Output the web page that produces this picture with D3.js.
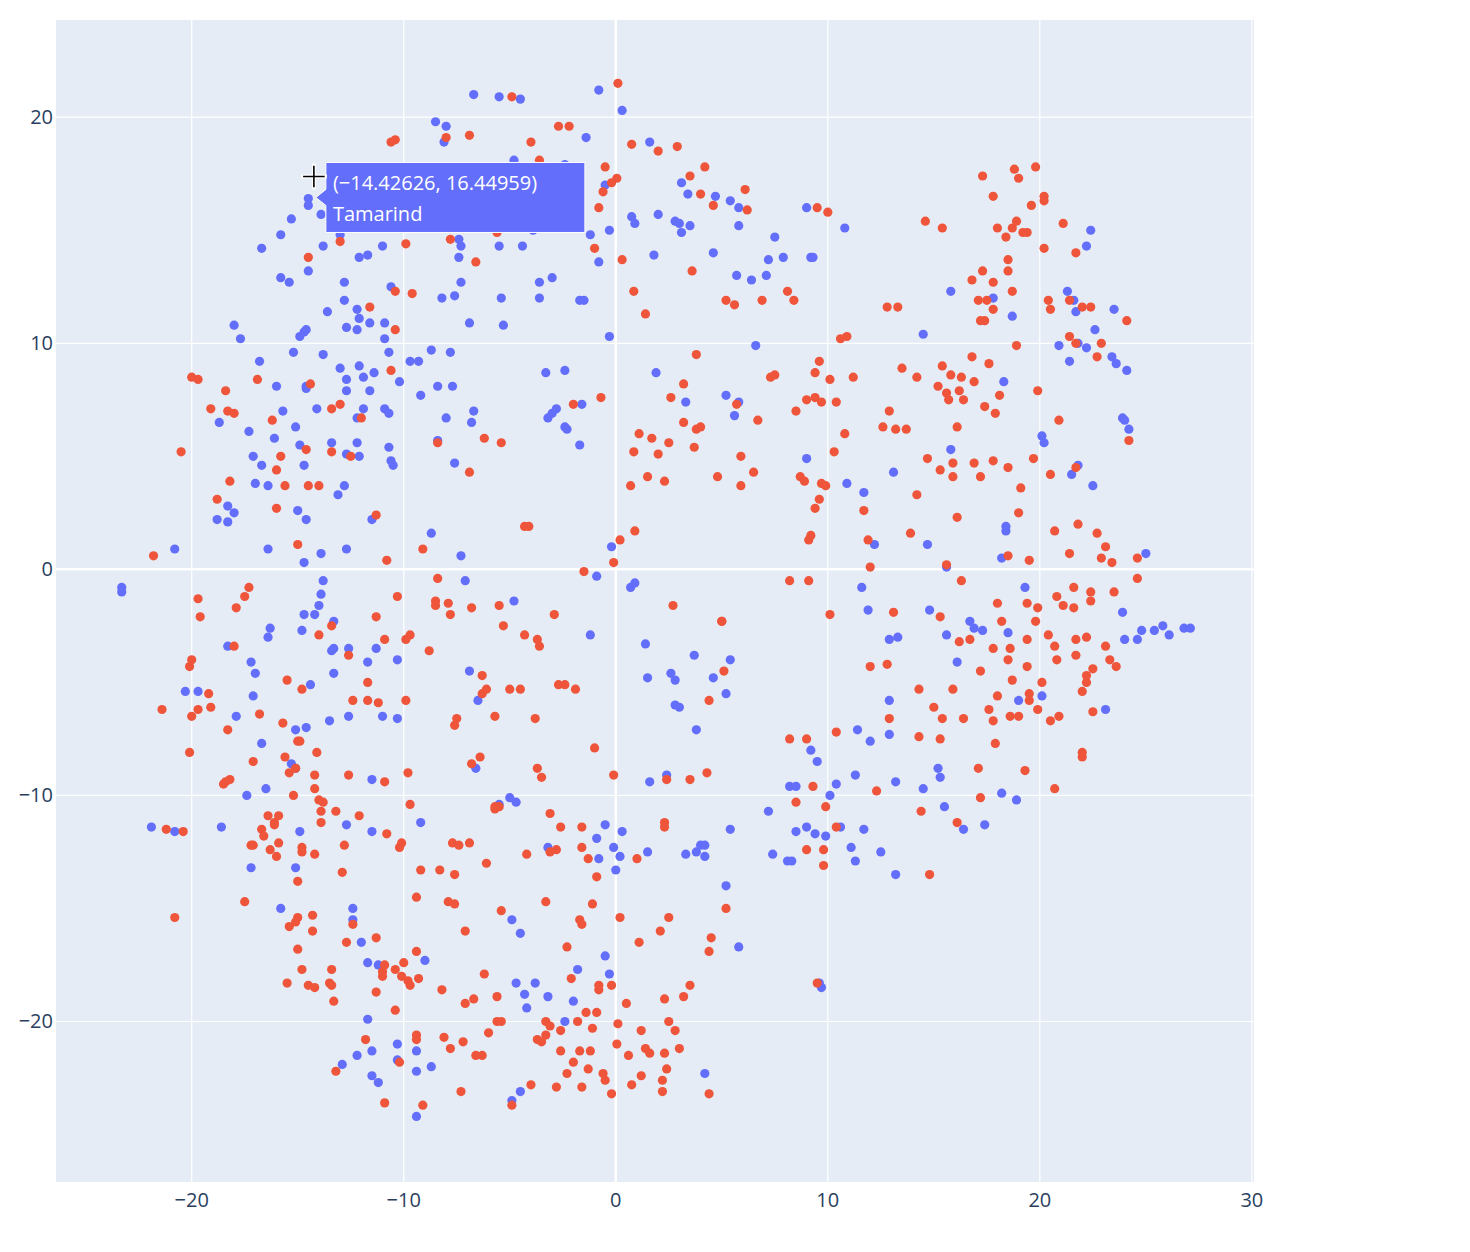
<!DOCTYPE html>
<html>
<head>
<meta charset="utf-8">
<script src="https://cdn.jsdelivr.net/npm/d3@7"></script>
<style>
  body { margin: 0; background: #fff; }
  text { font-family: "Open Sans", Arial, sans-serif; }
</style>
</head>
<body>
<svg id="chart" width="1470" height="1252"></svg>
<script>
// Data //
const xTicks = [-20, -10, 0, 10, 20, 30]
const yTicks = [-20, -10, 0, 10, 20]

const bluePoints = [
  [-6.7,21.0],[-5.5,20.9],[-4.5,20.8],[-0.8,21.2],[0.3,20.3],[-8.5,19.8],[-8,19.6],[-8.1,18.9],[-1.4,19.1],[1.6,18.9],
  [-4.8,18.1],[-2.4,17.9],[-0.5,17.0],[3.1,17.1],[3.4,16.6],[4.7,16.5],[5.4,16.3],[5.8,16.0],[9.0,16.0],[10.8,15.1],
  [0.75,15.6],[0.9,15.3],[2.0,15.7],[2.8,15.4],[3.0,15.3],[3.5,15.2],[3.1,14.9],[5.8,15.2],[-0.3,15.0],[-1.2,14.8],
  [-4.4,14.3],[-3.9,15.0],[4.6,14.0],[7.5,14.7],[7.2,13.7],[5.7,13.0],[6.4,12.8],[7.1,13.0],[7.9,13.8],[9.2,13.8],
  [9.3,13.8],[1.8,13.9],[-0.8,13.6],[-7.4,14.6],[-7.3,14.3],[-7.4,13.8],[-5.5,14.3],[-3.6,12.7],[-3,12.9],[-3.6,12.0],
  [-1.7,11.9],[-1.5,11.9],[-5.4,12.0],[-5.3,10.8],[-7.3,12.7],[-7.6,12.1],[-8.2,12.0],[-6.9,10.9],[-0.3,10.3],[6.6,9.9],
  [-7.8,9.6],[-3.3,8.7],[-2.4,8.8],[3.3,7.4],[1.9,8.7],[5.2,7.7],[5.8,7.4],[5.6,6.8],[-2.8,7.1],[-3.0,6.9],
  [-3.2,6.7],[-2.4,6.3],[-2.3,6.2],[-1.6,7.3],[-1.7,5.5],[-6.7,7.0],[-6.8,6.5],[-8.0,6.7],[-7.6,4.7],[-8.4,5.7],
  [-9.2,7.7],[-8.4,8.1],[-7.7,8.1],[-9.7,9.2],[-9.3,9.2],[-8.7,9.7],
  [-15.3,15.5],[-15.8,14.8],[-16.7,14.2],[-14.5,16.4],[-14.5,16.1],[-13.9,15.7],[-13.8,14.3],[-14.5,13.2],[-15.8,12.9],[-15.4,12.7],
  [-12.8,12.7],[-12.8,11.9],[-13.0,14.8],[-12.1,13.8],[-11.7,13.9],[-11.0,14.3],[-10.6,12.5],[-12.2,11.5],[-12.1,11.1],[-11.6,10.9],
  [-10.9,10.9],[-10.9,10.2],[-12.7,10.7],[-12.2,10.6],[-13.6,11.4],[-14.7,10.5],[-14.6,10.6],[-14.9,10.3],[-15.2,9.6],[-13.8,9.5],
  [-18.0,10.8],[-17.7,10.2],[-16.8,9.2],[-16.0,8.1],[-14.6,8.1],[-14.6,8.0],[-13.0,8.9],[-12.1,9.0],[-12.7,8.4],[-12.7,7.9],
  [-11.9,8.5],[-11.4,8.7],[-10.7,9.6],[-10.2,8.3],[-11.6,7.9],[-10.9,7.1],[-10.7,6.9],[-11.9,7.1],[-14.1,7.1],[-12.2,6.7],
  [-15.7,7.0],[-15.1,6.3],[-17.3,6.1],[-18.7,6.5],[-16.1,5.8],[-14.9,5.5],[-13.4,5.6],[-12.2,5.6],[-12.1,5.0],[-12.7,5.1],
  [-10.7,5.4],[-10.6,4.8],[-10.5,4.6],[-17.1,5.0],[-16.7,4.6],[-17.0,3.8],[-16.4,3.7],[-14.7,4.6],[-12.8,3.7],[-13.1,3.3],
  [-18.3,2.8],[-18.0,2.5],[-18.8,2.2],[-18.3,2.1],[-15.0,2.6],[-14.6,2.2],[-11.5,2.2],[-8.7,1.6],[-12.7,0.9],[-16.4,0.9],
  [-20.8,0.9],[-13.9,0.7],[-14.7,0.3],[-7.3,0.6],[-0.2,1.0],[-23.3,-0.8],[-23.3,-1.0],
  [22.2,14.3],[22.4,15.0],[21.3,12.3],[21.6,11.9],[21.7,11.4],[22.6,10.6],[21.8,10.0],[22.2,9.8],[20.9,9.9],[21.4,9.2],
  [23.5,11.5],[23.4,9.4],[23.6,9.1],[24.1,8.8],[23.9,6.7],[24.0,6.6],[24.2,6.2],[20.1,5.9],[20.2,5.6],[21.8,4.6],
  [21.5,4.2],[22.5,3.7],[18.7,11.2],[17.8,12.0],[18.3,8.3],[15.8,12.3],[14.5,10.4],[15.8,5.3],[13.1,4.3],[14.7,1.1],
  [18.4,1.9],[18.4,1.7],[18.2,0.5],[15.6,0.1],[25.0,0.7],[24.8,-2.7],[25.4,-2.7],[25.8,-2.5],[26.1,-2.9],[26.8,-2.6],
  [27.1,-2.6],[24.0,-3.1],[24.6,-3.1],[23.9,-1.9],[10.9,3.8],[11.7,3.4],[12.2,1.1],[9.0,4.9],[11.6,-0.8],[11.9,-1.8],
  [12.9,-3.1],[13.3,-3.0],[12.9,-5.8],[12.9,-7.3],[12.0,-7.6],[11.4,-7.1],[11.3,-9.1],[10.4,-9.5],[10.1,-10.0],[9.5,-8.5],
  [9.2,-8.0],[8.2,-9.6],[8.5,-9.6],[7.2,-10.7],[7.4,-12.6],[8.1,-12.9],[8.3,-12.9],[8.5,-11.6],[9.0,-11.4],[9.4,-11.7],
  [9.9,-11.8],[10.6,-11.4],[11.1,-12.3],[11.3,-12.9],[11.7,-11.5],[12.5,-12.5],[13.2,-13.5],[13.2,-9.4],[14.5,-9.7],[15.2,-8.8],
  [15.3,-9.2],[15.5,-10.5],[16.4,-11.5],[17.4,-11.3],[18.2,-9.9],[18.9,-10.2],[14.8,-1.8],[15.6,-2.9],[16.1,-4.1],[16.7,-2.3],
  [16.9,-2.6],[17.3,-2.7],[18.5,-2.8],[20.1,-5.6],[23.1,-6.2],[19.0,-5.8],[19.3,-0.8],[9.7,-18.5],[9.6,-18.3],
  [-0.9,-0.3],[0.7,-0.8],[0.9,-0.6],[-1.2,-2.9],[1.4,-3.3],[1.5,-4.8],[2.6,-4.6],[2.8,-4.9],[2.8,-6.0],[3.0,-6.1],
  [3.7,-3.8],[4.6,-4.8],[5.4,-4.0],[5.2,-5.5],[3.8,-7.1],[1.6,-9.4],[2.4,-9.1],[-0.5,-11.3],[0.3,-11.6],[-0.9,-11.9],
  [-0.1,-12.3],[-0.8,-12.8],[0.2,-12.7],[0,-13.3],[1.5,-12.5],[3.3,-12.6],[3.8,-12.5],[4.2,-12.7],[4.0,-12.2],[4.2,-12.2],
  [5.4,-11.5],[5.2,-14.0],[5.8,-16.7],[-0.5,-17.1],[-0.3,-17.9],[-1.8,-17.7],[-2.0,-19.1],[-3.2,-18.9],[-2.4,-20.0],[-4.2,-19.4],
  [-4.3,-18.8],[-4.7,-18.3],[-3.8,-18.3],[-4.9,-15.5],[-4.5,-16.1],[-4.7,-10.3],[-5.0,-10.1],[-5.5,-10.4],[-3.2,-12.3],[-4.5,-23.1],
  [-4.9,-23.5],[4.2,-22.3],[-6.6,-8.8],[-6.9,-4.5],[-6.5,-5.8],[-7.1,-0.5],[-4.8,-1.4],[-9.4,-21.3],[-9.4,-22.2],[-8.7,-22.0],
  [-9.0,-17.3],[-9.4,-24.2],[-9.2,-11.2],
  [-13.8,-0.5],[-13.9,-1.1],[-14.0,-1.6],[-14.2,-2.0],[-14.7,-2.0],[-14.8,-2.7],[-13.3,-2.3],[-13.3,-3.5],[-13.4,-3.6],[-13.3,-4.6],
  [-12.6,-3.5],[-11.7,-4.1],[-11.3,-3.5],[-10.3,-4.0],[-11.0,-6.5],[-10.3,-6.6],[-12.6,-6.5],[-13.5,-6.7],[-14.6,-7.0],[-15.1,-7.1],
  [-14.4,-5.1],[-17.2,-4.1],[-17.0,-4.6],[-17.1,-5.6],[-17.9,-6.5],[-16.7,-7.7],[-16.3,-2.6],[-16.4,-3.0],[-18.3,-3.4],[-20.3,-5.4],
  [-19.7,-5.4],[-17.4,-10.0],[-16.5,-9.7],[-15.3,-8.6],[-15.1,-8.8],[-11.5,-9.3],[-11.5,-11.6],[-12.7,-11.3],[-14.9,-11.6],[-15.1,-13.2],
  [-17.2,-13.2],[-18.6,-11.4],[-21.9,-11.4],[-20.8,-11.6],[-15.8,-15.0],[-12.4,-15.0],[-12.4,-15.5],[-12.0,-16.5],[-11.7,-17.4],[-11.2,-17.5],
  [-11.7,-19.9],[-12.2,-21.5],[-11.5,-21.3],[-11.5,-22.4],[-11.2,-22.7],[-12.9,-21.9],[-10.3,-21.0],[-10.3,-21.7]
]

const redPoints = [
  [0.1,21.5],[-4.9,20.9],[-2.7,19.6],[-2.2,19.6],[-6.9,19.2],[-8.0,19.1],[-10.6,18.9],[-10.4,19.0],[-4.0,18.9],[0.75,18.8],
  [2.0,18.5],[2.9,18.7],[-7.6,17.8],[-3.6,18.1],[-3.2,17.8],[4.2,17.8],[3.5,17.4],[-0.5,17.8],[0.05,17.3],[-0.2,17.1],
  [-0.6,16.7],[6.1,16.8],[4.0,16.6],[4.6,16.1],[6.2,15.9],[-0.8,16.0],[9.5,16.0],[10.0,15.8],[-5.6,14.9],[-7.8,14.6],
  [-9.9,14.4],[-13.0,14.5],[-14.5,13.8],[-6.6,13.6],[-1.0,14.2],[0.3,13.7],[3.6,13.2],[0.85,12.3],[1.4,11.3],[5.2,11.9],
  [5.6,11.7],[6.9,11.9],[8.1,12.3],[8.4,11.9],[-10.4,12.3],[-9.6,12.2],[-11.6,11.6],[-10.4,10.6],[10.9,10.3],[10.6,10.2],
  [3.8,9.5],[3.2,8.2],[2.6,7.6],[7.3,8.5],[7.5,8.6],[9.6,9.2],[9.4,8.7],[10.1,8.4],[11.2,8.5],[6.7,6.6],
  [5.7,7.3],[-0.7,7.6],[-2.0,7.3],[-10.6,8.8],[-14.4,8.2],[8.5,7.0],[9.0,7.5],[9.4,7.6],[9.7,7.4],[10.4,7.4],
  [3.2,6.5],[3.8,6.2],[4.0,6.3],[10.8,6.0],[1.1,6.0],[1.7,5.8],[2.5,5.6],[3.7,5.4],[0.85,5.2],[2.0,5.1],
  [5.9,5.0],[6.5,4.3],[10.3,5.2],[4.8,4.1],[1.5,4.1],[2.3,3.9],[0.7,3.7],[5.9,3.7],[8.7,4.1],[8.9,3.9],
  [9.7,3.8],[9.9,3.7],[9.6,3.1],[9.4,2.7],[11.7,2.6],[0.9,1.7],[0.2,1.3],[9.2,1.5],[9.1,1.3],[11.9,1.3],
  [12.0,0.1],[-0.1,0.3],[-1.5,-0.1],[8.2,-0.5],[9.1,-0.5],[2.7,-1.6],[10.1,-2.0],[5.0,-2.3],[-4.3,1.9],[-4.1,1.9],
  [-6.9,4.3],[-5.4,5.6],[-6.2,5.8],[-8.4,5.6],[-9.1,0.9],[-8.4,-0.4],[-10.8,0.4],[-11.3,2.4],[-14.6,5.3],[-13.4,7.1],
  [-13.0,7.3],[-12.0,6.7],[-12.5,5.0],[-13.4,5.2],[-14.5,3.7],[-14.0,3.7],[-15.6,3.7],[-15.8,5.0],[-16.0,4.4],[-16.2,6.6],
  [-16.9,8.4],[-18.4,7.9],[-20.0,8.5],[-19.7,8.4],[-19.1,7.1],[-18.3,7.0],[-18.0,6.9],[-20.5,5.2],[-18.2,3.9],[-18.8,3.1],
  [-16.0,2.7],[-15.0,1.1],[-21.8,0.6],
  [17.3,17.4],[18.8,17.7],[19.8,17.8],[19.0,17.3],[17.8,16.5],[19.6,16.1],[20.2,16.5],[20.2,16.3],[14.6,15.4],[15.4,15.1],
  [18.0,15.1],[18.4,14.7],[18.9,15.4],[18.7,15.1],[19.2,14.9],[19.4,14.9],[21.1,15.3],[20.2,14.2],[21.7,14.0],[18.5,13.7],
  [17.3,13.2],[18.5,13.2],[16.8,12.8],[17.8,12.7],[17.1,11.9],[17.5,11.9],[17.8,11.5],[18.7,12.3],[20.4,11.9],[20.5,11.5],
  [21.4,11.9],[22.0,11.6],[22.4,11.6],[24.1,11.0],[17.2,11.0],[17.4,11.0],[12.8,11.6],[13.3,11.6],[18.9,9.9],[21.4,10.3],
  [22.9,10.0],[21.7,10.0],[22.7,9.4],[13.5,8.9],[14.2,8.5],[15.4,9.0],[16.8,9.4],[17.6,9.1],[15.8,8.6],[16.3,8.5],
  [16.9,8.3],[15.2,8.1],[15.6,7.8],[15.7,7.5],[16.2,7.9],[16.4,7.5],[18.1,7.7],[17.4,7.2],[17.9,6.9],[19.9,7.9],
  [20.9,6.6],[12.9,7.0],[12.6,6.3],[13.2,6.2],[13.7,6.2],[16.1,6.3],[24.2,5.7],[14.7,4.9],[15.9,4.7],[16.9,4.7],
  [17.8,4.8],[18.5,4.5],[19.7,4.9],[20.5,4.2],[21.7,4.5],[15.3,4.4],[15.9,4.1],[17.2,4.1],[19.1,3.6],[19.0,2.5],
  [14.2,3.3],[16.1,2.3],[13.9,1.6],[20.7,1.7],[21.8,2.0],[22.7,1.6],[23.1,1.0],[22.9,0.5],[23.4,0.3],[24.6,0.5],
  [21.4,0.7],[19.5,0.4],[18.5,0.6],[15.6,0.2],[16.3,-0.5],[21.6,-0.8],[22.4,-1.0],[24.6,-0.4],[23.5,-1.0],[20.8,-1.2],
  [21.1,-1.6],[21.6,-1.7],[22.4,-1.4],[19.4,-1.5],[19.9,-1.7],[18.0,-1.5],[15.3,-2.1],[19.8,-2.3],[20.4,-2.9],[21.7,-3.1],
  [22.2,-3.0],[23.1,-3.4],[20.7,-3.4],[19.4,-3.1],[18.2,-2.3],[16.2,-3.2],[16.7,-3.1],[17.8,-3.5],[18.6,-3.5],[20.8,-4.0],
  [21.7,-3.8],[23.3,-4.0],[23.6,-4.3],[19.4,-4.3],[18.5,-4.0],[17.2,-4.5],[22.5,-4.4],[22.2,-4.7],[18.7,-4.9],[20.1,-5.0],
  [22.0,-5.4],[22.2,-5.0],[19.5,-5.5],[19.5,-5.8],[18.0,-5.6],[17.6,-6.2],[19.9,-6.2],[22.5,-6.3],[15.9,-5.3],[15.4,-6.6],
  [16.4,-6.6],[18.6,-6.5],[19.0,-6.5],[20.5,-6.7],[20.9,-6.5],[17.8,-6.7],[17.9,-7.7],[15.3,-7.5],[14.3,-7.4],[14.3,-5.3],
  [15.0,-6.1],[12.0,-4.3],[12.8,-4.2],[13.1,-1.9],[12.9,-6.6],[19.3,-8.9],[17.1,-8.8],[22.0,-8.1],[22.0,-8.3],[17.2,-10.1],
  [20.7,-9.7],[12.3,-9.8],[14.8,-13.5],[14.4,-10.7],[16.1,-11.2],[8.2,-7.5],[9.0,-7.5],[10.4,-7.2],[8.5,-10.3],[9.3,-9.6],
  [9.9,-10.5],[10.4,-11.4],[9.0,-12.4],[9.8,-12.4],[9.8,-13.1],[9.5,-18.3],
  [-1.0,-7.9],[-0.1,-9.1],[2.4,-9.3],[3.5,-9.3],[4.3,-9.0],[4.4,-5.8],[5.1,-4.5],[5.0,-2.3],[2.3,-11.2],[2.3,-11.4],
  [-1.6,-11.4],[-1.6,-12.3],[-1.3,-12.8],[1.0,-12.8],[-2.8,-12.4],[-3.1,-12.5],[-0.9,-13.6],[-1.1,-14.8],[-1.7,-15.5],[-1.6,-15.7],
  [0.2,-15.4],[2.5,-15.4],[2.1,-16.0],[4.5,-16.3],[4.4,-16.9],[5.2,-15.0],[1.1,-16.5],[-2.3,-16.7],[-3.3,-14.7],[-5.4,-15.1],
  [-2.1,-18.1],[-0.8,-18.4],[-0.8,-18.6],[-0.2,-18.4],[0.5,-19.2],[-0.9,-19.6],[-1.4,-19.6],[-1.1,-20.3],[-1.8,-20.0],[-2.6,-20.4],
  [-3.3,-20.0],[-3.1,-20.2],[-3.7,-20.8],[-3.3,-20.6],[-2.6,-21.3],[-1.7,-21.3],[-1.2,-21.3],[-2.0,-21.8],[-1.3,-22.1],[-2.3,-22.3],
  [-2.8,-22.9],[-1.6,-22.9],[-0.5,-22.6],[-0.2,-23.2],[-0.6,-22.3],[0.05,-21.0],[0.6,-21.5],[0.1,-20.1],[1.2,-20.4],[1.4,-21.2],
  [1.6,-21.4],[2.3,-21.4],[2.8,-20.4],[2.5,-20.0],[2.3,-19.0],[3.2,-18.9],[3.5,-18.4],[3.0,-21.2],[2.4,-22.1],[2.2,-22.6],
  [2.2,-23.1],[1.2,-22.4],[0.75,-22.8],[4.4,-23.2],[-4.0,-22.8],[-4.9,-23.7],[-3.5,-20.9],[-5.4,-20.0],[-5.6,-20.0],[-6.0,-20.5],
  [-5.6,-18.9],[-6.2,-17.9],[-6.7,-19.0],[-7.1,-19.2],[-6.6,-21.5],[-6.3,-21.5],[-7.3,-23.1],[-7.2,-20.9],[-8.1,-20.7],[-7.8,-21.2],
  [-9.4,-20.6],[-9.4,-20.8],[-9.4,-16.9],[-9.3,-18.1],[-9.8,-18.2],[-8.2,-18.6],[-9.1,-23.7],[-7.1,-16.0],[-7.9,-14.7],[-7.6,-14.8],
  [-8.3,-13.3],[-7.6,-13.5],[-9.2,-13.3],[-9.4,-14.5],[-7.7,-12.1],[-7.4,-12.2],[-6.1,-13.0],[-6.9,-12.1],[-4.2,-12.6],[-5.7,-10.5],
  [-5.5,-10.5],[-9.8,-9.0],[-10.2,-12.3],[-10.8,-11.7],[-10.1,-12.1],[-10.0,-17.4],[-10.4,-17.7],[-10.9,-17.5],[-11.0,-17.8],[-11.0,-18.0],
  [-10.1,-18.0],[-9.7,-18.4],[-11.3,-18.7],[-10.4,-19.5],[-11.8,-20.8],[-10.2,-21.8],[-10.9,-23.6],[-11.3,-16.3],[-12.4,-15.7],[-12.7,-16.5],
  [-13.4,-18.4],[-13.4,-17.7],[-13.5,-18.3],[-14.2,-18.5],[-14.5,-18.4],[-14.8,-17.7],[-15.0,-16.8],[-15.5,-18.3],[-15.0,-15.4],[-15.1,-15.6],
  [-14.3,-15.3],[-14.3,-16.0],[-15.4,-15.8],[-13.3,-19.1],[-13.2,-22.2],[-17.5,-14.7],[-20.8,-15.4],[-15.9,-12.1],[-16.0,-12.7],[-16.3,-12.4],
  [-17.1,-12.2],[-16.7,-11.5],[-16.6,-11.8],[-16.4,-10.9],[-16.1,-11.2],[-15.9,-10.9],[-16.1,-11.3],[-14.8,-12.3],[-14.2,-12.6],[-14.8,-12.5],
  [-15.0,-13.8],[-12.9,-13.4],[-12.8,-12.2],[-13.9,-11.2],[-13.9,-10.7],[-14.0,-10.2],[-13.8,-10.3],[-14.2,-9.1],[-14.2,-9.7],[-14.1,-8.1],
  [-12.6,-9.1],[-13.2,-10.7],[-12.1,-10.9],[-10.9,-9.4],[-9.7,-10.4],[-15.2,-10.0],[-15.4,-9.0],[-15.1,-8.8],[-15.6,-8.3],[-15.0,-7.6],
  [-15.7,-6.8],[-14.9,-7.6],[-15.5,-4.9],[-14.8,-5.3],[-17.1,-8.5],[-16.8,-6.4],[-18.4,-9.4],[-18.2,-9.3],[-18.5,-9.5],[-17.2,-12.2],
  [-21.2,-11.5],[-20.4,-11.6],[-20.1,-8.1],[-20.0,-6.5],[-19.7,-6.2],[-19.1,-6.1],[-19.2,-5.5],[-20.1,-4.3],[-20.0,-4.0],[-21.4,-6.2],
  [-19.7,-1.3],[-19.6,-2.1],[-17.9,-1.7],[-17.5,-1.2],[-17.3,-0.8],[-18.0,-3.4],[-18.3,-7.1],[-14.0,-2.9],[-13.4,-2.5],[-12.6,-3.8],
  [-11.7,-5.0],[-11.7,-5.8],[-12.4,-5.8],[-11.2,-5.9],[-11.3,-2.1],[-10.9,-3.1],[-9.9,-3.1],[-9.7,-2.9],[-10.3,-1.2],[-9.9,-5.8],
  [-8.8,-3.6],[-8.5,-1.4],[-8.5,-1.6],[-7.9,-1.5],[-7.8,-2.0],[-6.8,-1.7],[-5.5,-1.6],[-5.3,-2.5],[-4.3,-2.9],[-2.9,-2.0],
  [-3.7,-3.1],[-3.6,-3.4],[-6.3,-4.7],[-6.3,-5.5],[-6.1,-5.3],[-5.0,-5.3],[-4.5,-5.3],[-5.7,-6.5],[-7.5,-6.6],[-7.6,-6.9],
  [-3.8,-6.6],[-2.7,-5.1],[-2.4,-5.1],[-1.9,-5.3],[-6.4,-8.3],[-3.7,-8.8],[-3.5,-9.2],[-3.1,-10.8],[-2.6,-11.4],[-5.7,-10.6],
  [-6.8,-8.6]
]

const hoverPoint = { x: -14.42626, y: 16.44959, label: 'Tamarind' }

// Layout //
const margin = { left: 56, right: 216, top: 20, bottom: 70 }
const width = 1470 - margin.left - margin.right
const height = 1252 - margin.top - margin.bottom

const svg = d3.select('#chart')
const g = svg.append('g').attr('transform', `translate(${margin.left},${margin.top})`)

const x = d3.scaleLinear().domain([-26.4, 30.1]).range([0, width])
const y = d3.scaleLinear().domain([-27.1, 24.3]).range([height, 0])

g.append('rect').attr('width', width).attr('height', height).attr('fill', '#E5ECF6')

const fmt = d => String(d).replace('-', '\u2212')

// Grid //
g.selectAll('.gx').data(xTicks).enter().append('line')
    .attr('x1', d => x(d)).attr('x2', d => x(d))
    .attr('y1', 0).attr('y2', height)
    .attr('stroke', '#fff').attr('stroke-width', d => d === 0 ? 2.5 : 1.2)

g.selectAll('.gy').data(yTicks).enter().append('line')
    .attr('y1', d => y(d)).attr('y2', d => y(d))
    .attr('x1', 0).attr('x2', width)
    .attr('stroke', '#fff').attr('stroke-width', d => d === 0 ? 2.5 : 1.2)

// Axes labels //
g.selectAll('.tx').data(xTicks).enter().append('text')
    .attr('x', d => x(d)).attr('y', height + 25)
    .attr('text-anchor', 'middle').attr('font-size', 20).attr('fill', '#2a3f5f')
    .text(fmt)

g.selectAll('.ty').data(yTicks).enter().append('text')
    .attr('x', -3).attr('y', d => y(d) + 7)
    .attr('text-anchor', 'end').attr('font-size', 20).attr('fill', '#2a3f5f')
    .text(fmt)

// Points //
const drawPoints = (data, color) => {
    g.append('g').selectAll('circle').data(data).enter().append('circle')
        .attr('cx', d => x(d[0])).attr('cy', d => y(d[1]))
        .attr('r', 4.6).attr('fill', color)
}
drawPoints(bluePoints, '#636efa')
drawPoints(redPoints, '#EF553B')

// Hover label //
const hx = x(hoverPoint.x), hy = y(hoverPoint.y)
const tip = g.append('g').attr('transform', `translate(${hx},${hy})`)
tip.append('path')
    .attr('d', 'M6,0 L16,-8 L16,-35 L275,-35 L275,35 L16,35 L16,8 Z')
    .attr('fill', '#636efa').attr('stroke', '#fff').attr('stroke-width', 1)
tip.append('text').attr('x', 23).attr('y', -7).attr('fill', '#fff').attr('font-size', 20)
    .text(`(${fmt(hoverPoint.x)}, ${hoverPoint.y})`)
tip.append('text').attr('x', 23).attr('y', 24).attr('fill', '#fff').attr('font-size', 20)
    .text(hoverPoint.label)

// Cursor //
const cx = hx + 4, cy = hy - 21
const cursor = g.append('g').attr('stroke-linecap', 'square')
cursor.append('path').attr('d', `M${cx-11},${cy} H${cx+11} M${cx},${cy-11} V${cy+11}`)
    .attr('stroke', '#fff').attr('stroke-width', 4)
cursor.append('path').attr('d', `M${cx-10},${cy} H${cx+10} M${cx},${cy-10} V${cy+10}`)
    .attr('stroke', '#000').attr('stroke-width', 1.6)
</script>
</body>
</html>
